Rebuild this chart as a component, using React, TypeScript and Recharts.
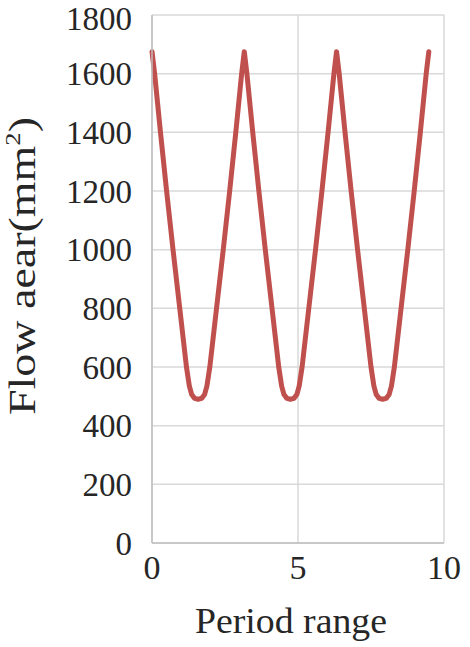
import { LineChart, Line, XAxis, YAxis, CartesianGrid, Label } from 'recharts';

// period position (rad-ish) and flow area
const periodX = [
  0, 0.09, 0.29, 0.5, 0.72, 0.95, 1.18, 1.28, 1.36, 1.46, 1.58, 1.7, 1.8, 1.88, 1.98, 2.21, 2.44, 2.66, 2.87, 3.07,
  3.16, 3.25, 3.45, 3.66, 3.88, 4.11, 4.34, 4.44, 4.52, 4.62, 4.74, 4.86, 4.96, 5.04, 5.14, 5.37, 5.6, 5.82, 6.03, 6.23,
  6.32, 6.41, 6.61, 6.82, 7.04, 7.27, 7.5, 7.6, 7.68, 7.78, 7.9, 8.02, 8.12, 8.2, 8.3, 8.53, 8.76, 8.98, 9.19, 9.39,
  9.48,
];
const flowArea = [
  1675, 1600, 1400, 1200, 1000, 800, 600, 535, 506, 493, 490, 493, 506, 535, 600, 800, 1000, 1200, 1400, 1600,
  1675, 1600, 1400, 1200, 1000, 800, 600, 535, 506, 493, 490, 493, 506, 535, 600, 800, 1000, 1200, 1400, 1600,
  1675, 1600, 1400, 1200, 1000, 800, 600, 535, 506, 493, 490, 493, 506, 535, 600, 800, 1000, 1200, 1400, 1600,
  1675,
];
const xTicks = [0, 5, 10];
const yTicks = [0, 200, 400, 600, 800, 1000, 1200, 1400, 1600, 1800];

const data = periodX.map((x, i) => ({ x, area: flowArea[i] }));

const FONT = '"Liberation Serif", "Times New Roman", serif';
const TEXT = '#262626';

const YTitle = () => (
  <text
    x={35}
    y={266}
    transform="rotate(-90 35 266)"
    textAnchor="middle"
    fontFamily={FONT}
    fontSize={38}
    fill={TEXT}
    textLength={298}
    lengthAdjust="spacingAndGlyphs"
  >
    Flow aear(mm<tspan dy={-15} fontSize={22}>2</tspan><tspan dy={15}>)</tspan>
  </text>
);

const XTitle = () => (
  <text
    x={291}
    y={633}
    textAnchor="middle"
    fontFamily={FONT}
    fontSize={35}
    fill={TEXT}
    textLength={192}
    lengthAdjust="spacingAndGlyphs"
  >
    Period range
  </text>
);

export default function App() {
  return (
    <div style={{ position: 'absolute', left: 0, top: 0, width: 470, height: 647, background: '#fff' }}>
      <LineChart width={470} height={647} data={data} margin={{ top: 15, right: 26, bottom: 0, left: 0 }}>
        <CartesianGrid stroke="#d9d9d9" strokeWidth={1.5} />
        <XAxis
          dataKey="x"
          type="number"
          domain={[0, 10]}
          ticks={xTicks}
          height={104}
          tickSize={0}
          tickMargin={12}
          axisLine={{ stroke: '#bfbfbf', strokeWidth: 1.5 }}
          tickLine={false}
          tick={{ fontFamily: FONT, fontSize: 34, fill: TEXT }}
        >
          <Label content={<XTitle />} />
        </XAxis>
        <YAxis
          type="number"
          domain={[0, 1800]}
          ticks={yTicks}
          width={152}
          tickSize={0}
          tickMargin={20}
          axisLine={{ stroke: '#bfbfbf', strokeWidth: 1.5 }}
          tickLine={false}
          tick={{ fontFamily: FONT, fontSize: 33, fill: TEXT }}
        >
          <Label content={<YTitle />} />
        </YAxis>
        <Line
          type="linear"
          dataKey="area"
          stroke="#c0504d"
          strokeWidth={5}
          strokeLinejoin="round"
          strokeLinecap="round"
          dot={false}
          isAnimationActive={false}
        />
      </LineChart>
    </div>
  );
}
